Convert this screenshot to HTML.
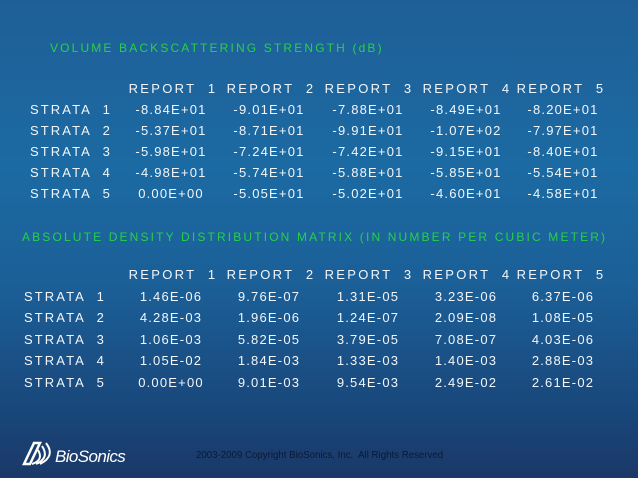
<!DOCTYPE html>
<html><head><meta charset="utf-8"><style>
body{margin:0;}
#slide{position:relative;width:638px;height:478px;overflow:hidden;
background:linear-gradient(180deg,#1f5f97 0%,#1c6aa3 35%,#1b5f97 60%,#19487c 85%,#1a3868 100%);
font-family:"Liberation Sans",sans-serif;color:#f2f6fa;}
.t{position:absolute;white-space:nowrap;font-size:13px;letter-spacing:2.1px;line-height:16px;}
.v{letter-spacing:1.2px;}
.h{letter-spacing:2.3px;}
.c{transform:translateX(-50%);}
.g{color:#27d04a;font-size:12px;letter-spacing:2.15px;}
#copy{position:absolute;left:196px;top:450px;font-size:9.7px;color:#0a1a33;white-space:nowrap;}
#logo{position:absolute;left:22px;top:440px;}
</style></head><body>
<div id="slide">
<div class="t g" style="left:50px;top:40px">VOLUME BACKSCATTERING STRENGTH (dB)</div>
<div class="t g" style="left:22px;top:229px">ABSOLUTE DENSITY DISTRIBUTION MATRIX (IN NUMBER PER CUBIC METER)</div>
<div id="logo">
<svg width="110" height="26" viewBox="0 0 110 26"><path d="M2 24 L12 3 L18 3 L8 24 Z" fill="none" stroke="#fff" stroke-width="2.5"/><path d="M10 24 Q22 20 16 10 M14 24 Q28 18 20 6 M18 24 Q34 16 24 3" fill="none" stroke="#fff" stroke-width="2"/><text x="33" y="22" fill="#fff" font-family="Liberation Sans" font-style="italic" font-size="17" letter-spacing="-0.6">BioSonics</text></svg>
</div>
<div id="copy">2003-2009 Copyright BioSonics, Inc.&nbsp; All Rights Reserved</div>
</div>
<script>
const reports=["REPORT  1","REPORT  2","REPORT  3","REPORT  4","REPORT  5"];
const strata=["STRATA  1","STRATA  2","STRATA  3","STRATA  4","STRATA  5"];
const vbsValues=[
["-8.84E+01","-9.01E+01","-7.88E+01","-8.49E+01","-8.20E+01"],
["-5.37E+01","-8.71E+01","-9.91E+01","-1.07E+02","-7.97E+01"],
["-5.98E+01","-7.24E+01","-7.42E+01","-9.15E+01","-8.40E+01"],
["-4.98E+01","-5.74E+01","-5.88E+01","-5.85E+01","-5.54E+01"],
["0.00E+00","-5.05E+01","-5.02E+01","-4.60E+01","-4.58E+01"]];
const densityValues=[
["1.46E-06","9.76E-07","1.31E-05","3.23E-06","6.37E-06"],
["4.28E-03","1.96E-06","1.24E-07","2.09E-08","1.08E-05"],
["1.06E-03","5.82E-05","3.79E-05","7.08E-07","4.03E-06"],
["1.05E-02","1.84E-03","1.33E-03","1.40E-03","2.88E-03"],
["0.00E+00","9.01E-03","9.54E-03","2.49E-02","2.61E-02"]];
const slide=document.getElementById('slide');
const colX=[171,269,368,466,563];
const hdrX=[173,271,369,467,561];
function put(txt,x,y,cls,name){
  const d=document.createElement('div');
  d.className='t '+cls;
  d.style.left=x+'px';d.style.top=y+'px';
  d.textContent=txt;d.style.whiteSpace='pre';
  
  
  slide.appendChild(d);
}
function table(vals,top,prefix,labelX){
  reports.forEach((r,i)=>put(r,hdrX[i],top,'c h',prefix+'-header-'+(i+1)));
  strata.forEach((s,j)=>{
    const y=top+21*(j+1)+(prefix==='density'?0.6*(j+1):0);
    put(s,labelX,y,'',prefix+'-row-label-'+(j+1));
    vals[j].forEach((v,i)=>put(v,colX[i],y,'c v',prefix+'-cell-'+(j+1)+'-'+(i+1)));
  });
}
table(vbsValues,81,'vbs',30);
table(densityValues,267,'density',24);
</script>
</body></html>
